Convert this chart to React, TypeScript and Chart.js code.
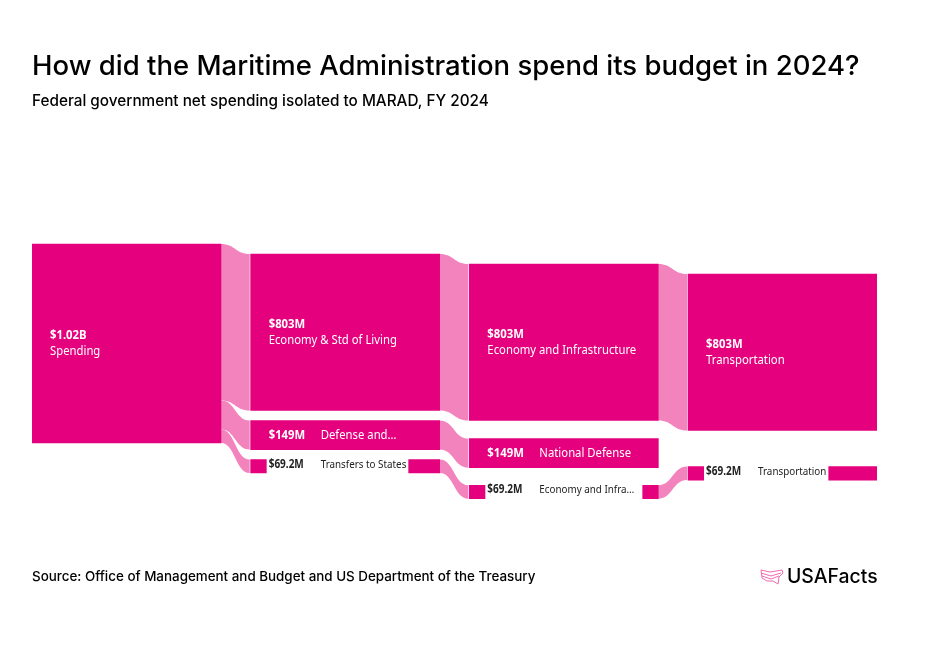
import React, { useRef, useEffect } from 'react';
import { Chart, registerables } from 'chart.js';

Chart.register(...registerables);

const nodeNames = [
  'Spending',
  'Economy & Std of Living', 'Defense and…', 'Transfers to States',
  'Economy and Infrastructure', 'National Defense', 'Economy and Infra…',
  'Transportation', 'Transportation',
];
const nodeAmounts = ['$1.02B', '$803M', '$149M', '$69.2M', '$803M', '$149M', '$69.2M', '$803M', '$69.2M'];
const nodeValues = [1021.2, 803, 149, 69.2, 803, 149, 69.2, 803, 69.2];
const nodeColumns = [0, 1, 1, 1, 2, 2, 2, 3, 3];
const nodeGaps = [0, 51.3, 51.3, 51.3, 102.6, 93, 90, 153.9, 185];

const linkSources = [0, 0, 0, 1, 2, 3, 4, 6];
const linkTargets = [1, 2, 3, 4, 5, 6, 7, 8];
const linkValues = [803, 149, 69.2, 803, 149, 69.2, 803, 69.2];

const NODE_COLOR = '#e5007d';
const LINK_COLOR = '#f383bd';
const TEXT_DARK = '#222222';
const LABEL_FONT = '"Noto Sans"';
const TITLE_FONT = 'Inter';
const NARROW = 0.87;

// stack nodes down each column
const nodeTops: number[] = [];
const nodeRows: number[] = [];
nodeValues.forEach((v, i) => {
  const prev = i > 0 && nodeColumns[i - 1] === nodeColumns[i] ? i - 1 : -1;
  nodeTops[i] = prev < 0 ? nodeGaps[i] : nodeTops[prev] + nodeValues[prev] + nodeGaps[i];
  nodeRows[i] = prev < 0 ? 0 : nodeRows[prev] + 1;
});

const rowCount = Math.max(...nodeRows) + 1;
const datasets = Array.from({ length: rowCount }, (_, row) => ({
  label: 'row ' + row,
  backgroundColor: NODE_COLOR,
  borderWidth: 0,
  barThickness: 189,
  data: nodeValues
    .map((v, i) => ({ x: nodeColumns[i], y: [nodeTops[i], nodeTops[i] + v], row: nodeRows[i] }))
    .filter((d) => d.row === row),
}));

function nodeBox(chart: any, i: number) {
  const row = nodeRows[i];
  const index = datasets[row].data.findIndex((d) => d.x === nodeColumns[i]);
  const el = chart.getDatasetMeta(row).data[index];
  return { left: el.x - el.width / 2, right: el.x + el.width / 2 };
}

function label(ctx: any, text: string, x: number, y: number, font: string, color: string, sx: number) {
  ctx.save();
  ctx.font = font;
  ctx.fillStyle = color;
  ctx.textAlign = 'left';
  ctx.textBaseline = 'middle';
  ctx.translate(x, y);
  ctx.scale(sx, 1);
  ctx.fillText(text, 0, 0);
  ctx.restore();
}

const linksPlugin = {
  id: 'links',
  beforeDatasetsDraw(chart: any) {
    const { ctx, scales } = chart;
    const outUsed: number[] = nodeValues.map(() => 0);
    const inUsed: number[] = nodeValues.map(() => 0);
    linkValues.forEach((v, i) => {
      const s = linkSources[i];
      const t = linkTargets[i];
      const x0 = nodeBox(chart, s).right;
      const x1 = nodeBox(chart, t).left - 1;
      const mid = (x0 + x1) / 2;
      const a0 = scales.y.getPixelForValue(nodeTops[s] + outUsed[s]);
      const a1 = scales.y.getPixelForValue(nodeTops[s] + outUsed[s] + v);
      const b0 = scales.y.getPixelForValue(nodeTops[t] + inUsed[t]);
      const b1 = scales.y.getPixelForValue(nodeTops[t] + inUsed[t] + v);
      outUsed[s] += v;
      inUsed[t] += v;
      ctx.beginPath();
      ctx.moveTo(x0, a0);
      ctx.bezierCurveTo(mid, a0, mid, b0, x1, b0);
      ctx.lineTo(x1, b1);
      ctx.bezierCurveTo(mid, b1, mid, a1, x0, a1);
      ctx.closePath();
      ctx.fillStyle = LINK_COLOR;
      ctx.fill();
    });
  },
};

const labelsPlugin = {
  id: 'nodeLabels',
  afterDatasetsDraw(chart: any) {
    const { ctx, scales } = chart;
    nodeValues.forEach((v, i) => {
      const { left } = nodeBox(chart, i);
      const mid = scales.y.getPixelForValue(nodeTops[i] + v / 2);
      if (v > 500) {
        label(ctx, nodeAmounts[i], left + 18, mid - 8, `700 13px ${LABEL_FONT}`, '#ffffff', NARROW);
        label(ctx, nodeNames[i], left + 18, mid + 8, `400 13px ${LABEL_FONT}`, '#ffffff', NARROW);
      } else if (v > 100) {
        label(ctx, nodeAmounts[i], left + 18, mid, `700 13px ${LABEL_FONT}`, '#ffffff', NARROW);
        label(ctx, nodeNames[i], left + 70, mid, `400 13px ${LABEL_FONT}`, '#ffffff', NARROW);
      } else {
        // small nodes: the text sits on a white strip cut out of the bar
        ctx.font = `400 11.3px ${LABEL_FONT}`;
        const w = ctx.measureText(nodeNames[i]).width * NARROW;
        const pad = nodeNames[i].endsWith('…') ? 8 : 2;
        const top = scales.y.getPixelForValue(nodeTops[i]);
        const bottom = scales.y.getPixelForValue(nodeTops[i] + v);
        ctx.fillStyle = '#ffffff';
        ctx.fillRect(left + 16, top - 1, 54 + w + pad, bottom - top + 2);
        label(ctx, nodeAmounts[i], left + 18, mid - 2, `700 11.5px ${LABEL_FONT}`, TEXT_DARK, NARROW);
        label(ctx, nodeNames[i], left + 70, mid - 2, `400 11.3px ${LABEL_FONT}`, TEXT_DARK, NARROW);
      }
    });
  },
};

const footerPlugin = {
  id: 'footer',
  afterDraw(chart: any) {
    const { ctx } = chart;
    label(ctx, 'Source: Office of Management and Budget and US Department of the Treasury', 32, 577, `500 13.4px ${TITLE_FONT}`, '#000000', 1);
    label(ctx, 'USAFacts', 787, 577, `500 19.4px ${TITLE_FONT}`, '#000000', 1);
    // logo mark
    ctx.save();
    ctx.strokeStyle = '#f06bb0';
    ctx.lineWidth = 1;
    ctx.beginPath();
    ctx.moveTo(761, 570);
    ctx.lineTo(770, 572);
    ctx.lineTo(782, 570);
    ctx.lineTo(783, 573);
    ctx.lineTo(779, 577);
    ctx.lineTo(778, 584);
    ctx.lineTo(773, 581);
    ctx.lineTo(767, 581);
    ctx.lineTo(762, 578);
    ctx.closePath();
    ctx.moveTo(761, 573);
    ctx.lineTo(771, 576);
    ctx.lineTo(781, 573);
    ctx.moveTo(762, 576);
    ctx.lineTo(771, 579);
    ctx.lineTo(779, 576);
    ctx.stroke();
    ctx.restore();
  },
};

export default function App() {
  const chartRef = useRef<HTMLCanvasElement>(null);

  useEffect(() => {
    const chart = new Chart(chartRef.current as HTMLCanvasElement, {
      type: 'bar',
      data: { datasets: datasets as any },
      plugins: [linksPlugin, labelsPlugin, footerPlugin],
      options: {
        responsive: false,
        animation: false,
        layout: { padding: { left: 32, right: 52, top: 0, bottom: 131 } },
        plugins: {
          legend: { display: false },
          tooltip: { enabled: false },
          title: {
            display: true,
            text: 'How did the Maritime Administration spend its budget in 2024?',
            align: 'start',
            color: '#000000',
            font: { family: TITLE_FONT, size: 27.5, weight: '500', lineHeight: 1.2 },
            padding: { top: 50.5, bottom: 0 },
          },
          subtitle: {
            display: true,
            text: 'Federal government net spending isolated to MARAD, FY 2024',
            align: 'start',
            color: '#000000',
            font: { family: TITLE_FONT, size: 15.3, weight: '500', lineHeight: 1.2 },
            padding: { top: 8.6, bottom: 19.54 },
          },
        },
        scales: {
          x: { type: 'linear', display: false, stacked: true, offset: false, min: -0.432, max: 3.432 },
          y: { type: 'linear', display: false, reverse: true, min: -585, max: 1467.4 },
        },
      },
    } as any);
    return () => chart.destroy();
  }, []);

  return (
    <div style={{ position: 'absolute', left: 0, top: 0, width: 929, height: 661 }}>
      <canvas ref={chartRef} width={929} height={661} />
    </div>
  );
}
